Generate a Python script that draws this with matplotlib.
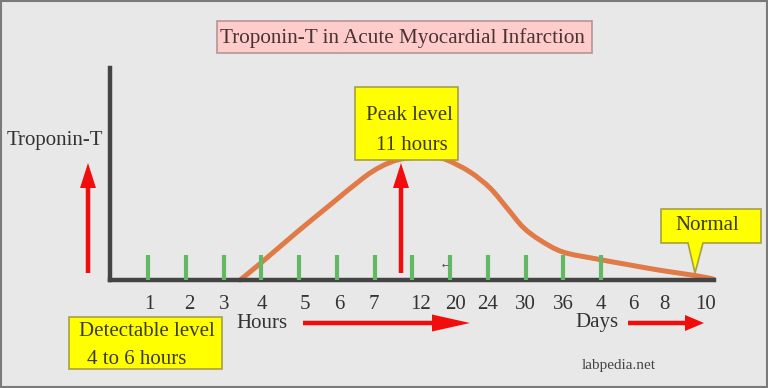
import numpy as np
import matplotlib
matplotlib.use("Agg")
import matplotlib.pyplot as plt
from matplotlib.patches import Rectangle, Polygon, FancyArrowPatch, PathPatch
from matplotlib.path import Path

# tick slots (evenly spaced green markers) and axis labels
tick_slots = list(range(13))
label_slots = [0.03, 1.09, 2.01, 3.01, 4.16, 5.07, 5.97, 7.22, 8.15, 9.0, 10.0, 11.0, 12.0, 12.85, 13.68, 14.76]
label_text = ["1", "2", "3", "4", "5", "6", "7", "12", "20", "24", "30", "36", "4", "6", "8", "10"]

# troponin-T curve (x in slots, y in relative level)
curve_x = [2.44, 3.02, 3.95, 4.82, 5.70, 6.15, 6.60, 7.13, 7.52, 7.92, 8.53, 9.06,
           9.51, 9.93, 10.38, 10.99, 11.89, 12.77, 13.60, 14.49, 14.97]
curve_y = [0.0, 1.8, 4.8, 7.5, 10.2, 11.3, 12.0, 12.3, 12.35, 12.0, 10.8, 9.2,
           7.2, 5.3, 4.0, 2.8, 2.1, 1.5, 0.95, 0.45, 0.1]

W, H = 768, 388
BG = "#e8e8e8"
RED = "#f20d0d"
SERIF = ["Liberation Serif", "DejaVu Serif"]


def smooth_path(xs, ys):
    # Catmull-Rom through the read points, drawn as cubic Bezier segments
    P = np.column_stack([xs, ys])
    n = len(P)
    verts, codes = [P[0]], [Path.MOVETO]
    for i in range(n - 1):
        p0 = P[max(i - 1, 0)]
        p1, p2 = P[i], P[i + 1]
        p3 = P[min(i + 2, n - 1)]
        verts += [p1 + (p2 - p0) / 6, p2 - (p3 - p1) / 6, p2]
        codes += [Path.CURVE4] * 3
    return Path(verts, codes)


fig = plt.figure(figsize=(W / 100, H / 100), dpi=100, facecolor=BG)

# main chart axes: plot area from x=110..714, y=68..280 px
ax = fig.add_axes([110 / W, 1 - 280 / H, (714 - 110) / W, (280 - 68) / H])
ax.set_facecolor("none")
ax.set_xlim(-1.007, 14.993)
ax.set_ylim(0, 21.2)
for side in ["top", "right"]:
    ax.spines[side].set_visible(False)
for side in ["left", "bottom"]:
    ax.spines[side].set_linewidth(3.2)
    ax.spines[side].set_color("#444444")
    ax.spines[side].set_capstyle("projecting")
ax.set_yticks([])
ax.set_xticks(label_slots, label_text)
ax.tick_params(axis="x", length=0, pad=11, labelsize=15, labelcolor="#333333")
for t in ax.get_xticklabels():
    t.set_fontfamily(SERIF)

ax.add_patch(PathPatch(smooth_path(curve_x, curve_y), fill=False, ec="#e07a46", lw=3.6,
                       capstyle="round", joinstyle="round", clip_on=False, zorder=2))
ax.vlines(tick_slots, 0, 2.5, color="#62b864", lw=3.0, zorder=3, clip_on=False)

# overlay in pixel coordinates for the annotations
ov = fig.add_axes([0, 0, 1, 1])
ov.set_xlim(0, W)
ov.set_ylim(H, 0)
ov.axis("off")
ov.set_facecolor("none")

ov.add_patch(Rectangle((1, 1), W - 2, H - 2, fill=False, ec="#7a7a7a", lw=1.5))


def box(x0, x1, y0, y1, fc, ec):
    ov.add_patch(Rectangle((x0, y0), x1 - x0, y1 - y0, fc=fc, ec=ec, lw=1.2, zorder=4))


def arrow(p0, p1, hl, hw, tw):
    style = "simple,head_length=%g,head_width=%g,tail_width=%g" % (hl * 0.72, hw * 0.72, tw * 0.72)
    ov.add_patch(FancyArrowPatch(p0, p1, arrowstyle=style, mutation_scale=1,
                                 color=RED, lw=0, shrinkA=0, shrinkB=0, zorder=5))


txt = dict(fontfamily=SERIF, color="#333333")
box_txt = dict(fontfamily=SERIF, color="#3b3b1e", zorder=6)

# title
box(217, 592, 21, 53, "#ffcccc", "#b89494")
ov.text(402, 38, "Troponin-T in Acute Myocardial Infarction", ha="center", va="center",
        fontsize=15.2, fontfamily=SERIF, color="#4a3333", zorder=6)

ov.text(55, 140, "Troponin-T", ha="center", va="center", fontsize=15, **txt)

# arrows
arrow((88, 273), (88, 163), 25, 16, 4.5)
arrow((401, 273), (401, 163), 25, 16, 4.5)
arrow((303, 323), (470, 323), 38, 17, 4.5)
arrow((628, 323), (704, 323), 19, 16, 4.5)

# peak box
box(355, 458, 87, 160, "#ffff00", "#a8a040")
ov.text(366, 115, "Peak level", ha="left", va="center", fontsize=15, **box_txt)
ov.text(376, 145, "11 hours", ha="left", va="center", fontsize=15, **box_txt)

# detectable box
box(69, 222, 317, 369, "#ffff00", "#a8a040")
ov.text(79, 332, "Detectable level", ha="left", va="center", fontsize=15, **box_txt)
ov.text(87, 359, "4 to 6 hours", ha="left", va="center", fontsize=15, **box_txt)

# normal callout
ov.add_patch(Polygon([(661, 209), (761, 209), (761, 243), (703, 243), (695, 273),
                      (688, 243), (661, 243)], closed=True, fc="#ffff00", ec="#a8a040",
                     lw=1.2, zorder=4))
ov.text(707, 225, "Normal", ha="center", va="center", fontsize=15, **box_txt)

ov.text(262, 323, "Hours", ha="center", va="center", fontsize=15, **txt)
ov.text(597, 323, "Days", ha="center", va="center", fontsize=15, **txt)
ov.text(445, 265, "\u2190", ha="center", va="center", fontsize=6,
        fontfamily="DejaVu Sans", color="#444444")
ov.text(619, 365, "labpedia.net", ha="center", va="center", fontsize=11,
        fontfamily=SERIF, color="#444444")

fig.savefig("out.png", dpi=100, facecolor=BG)
